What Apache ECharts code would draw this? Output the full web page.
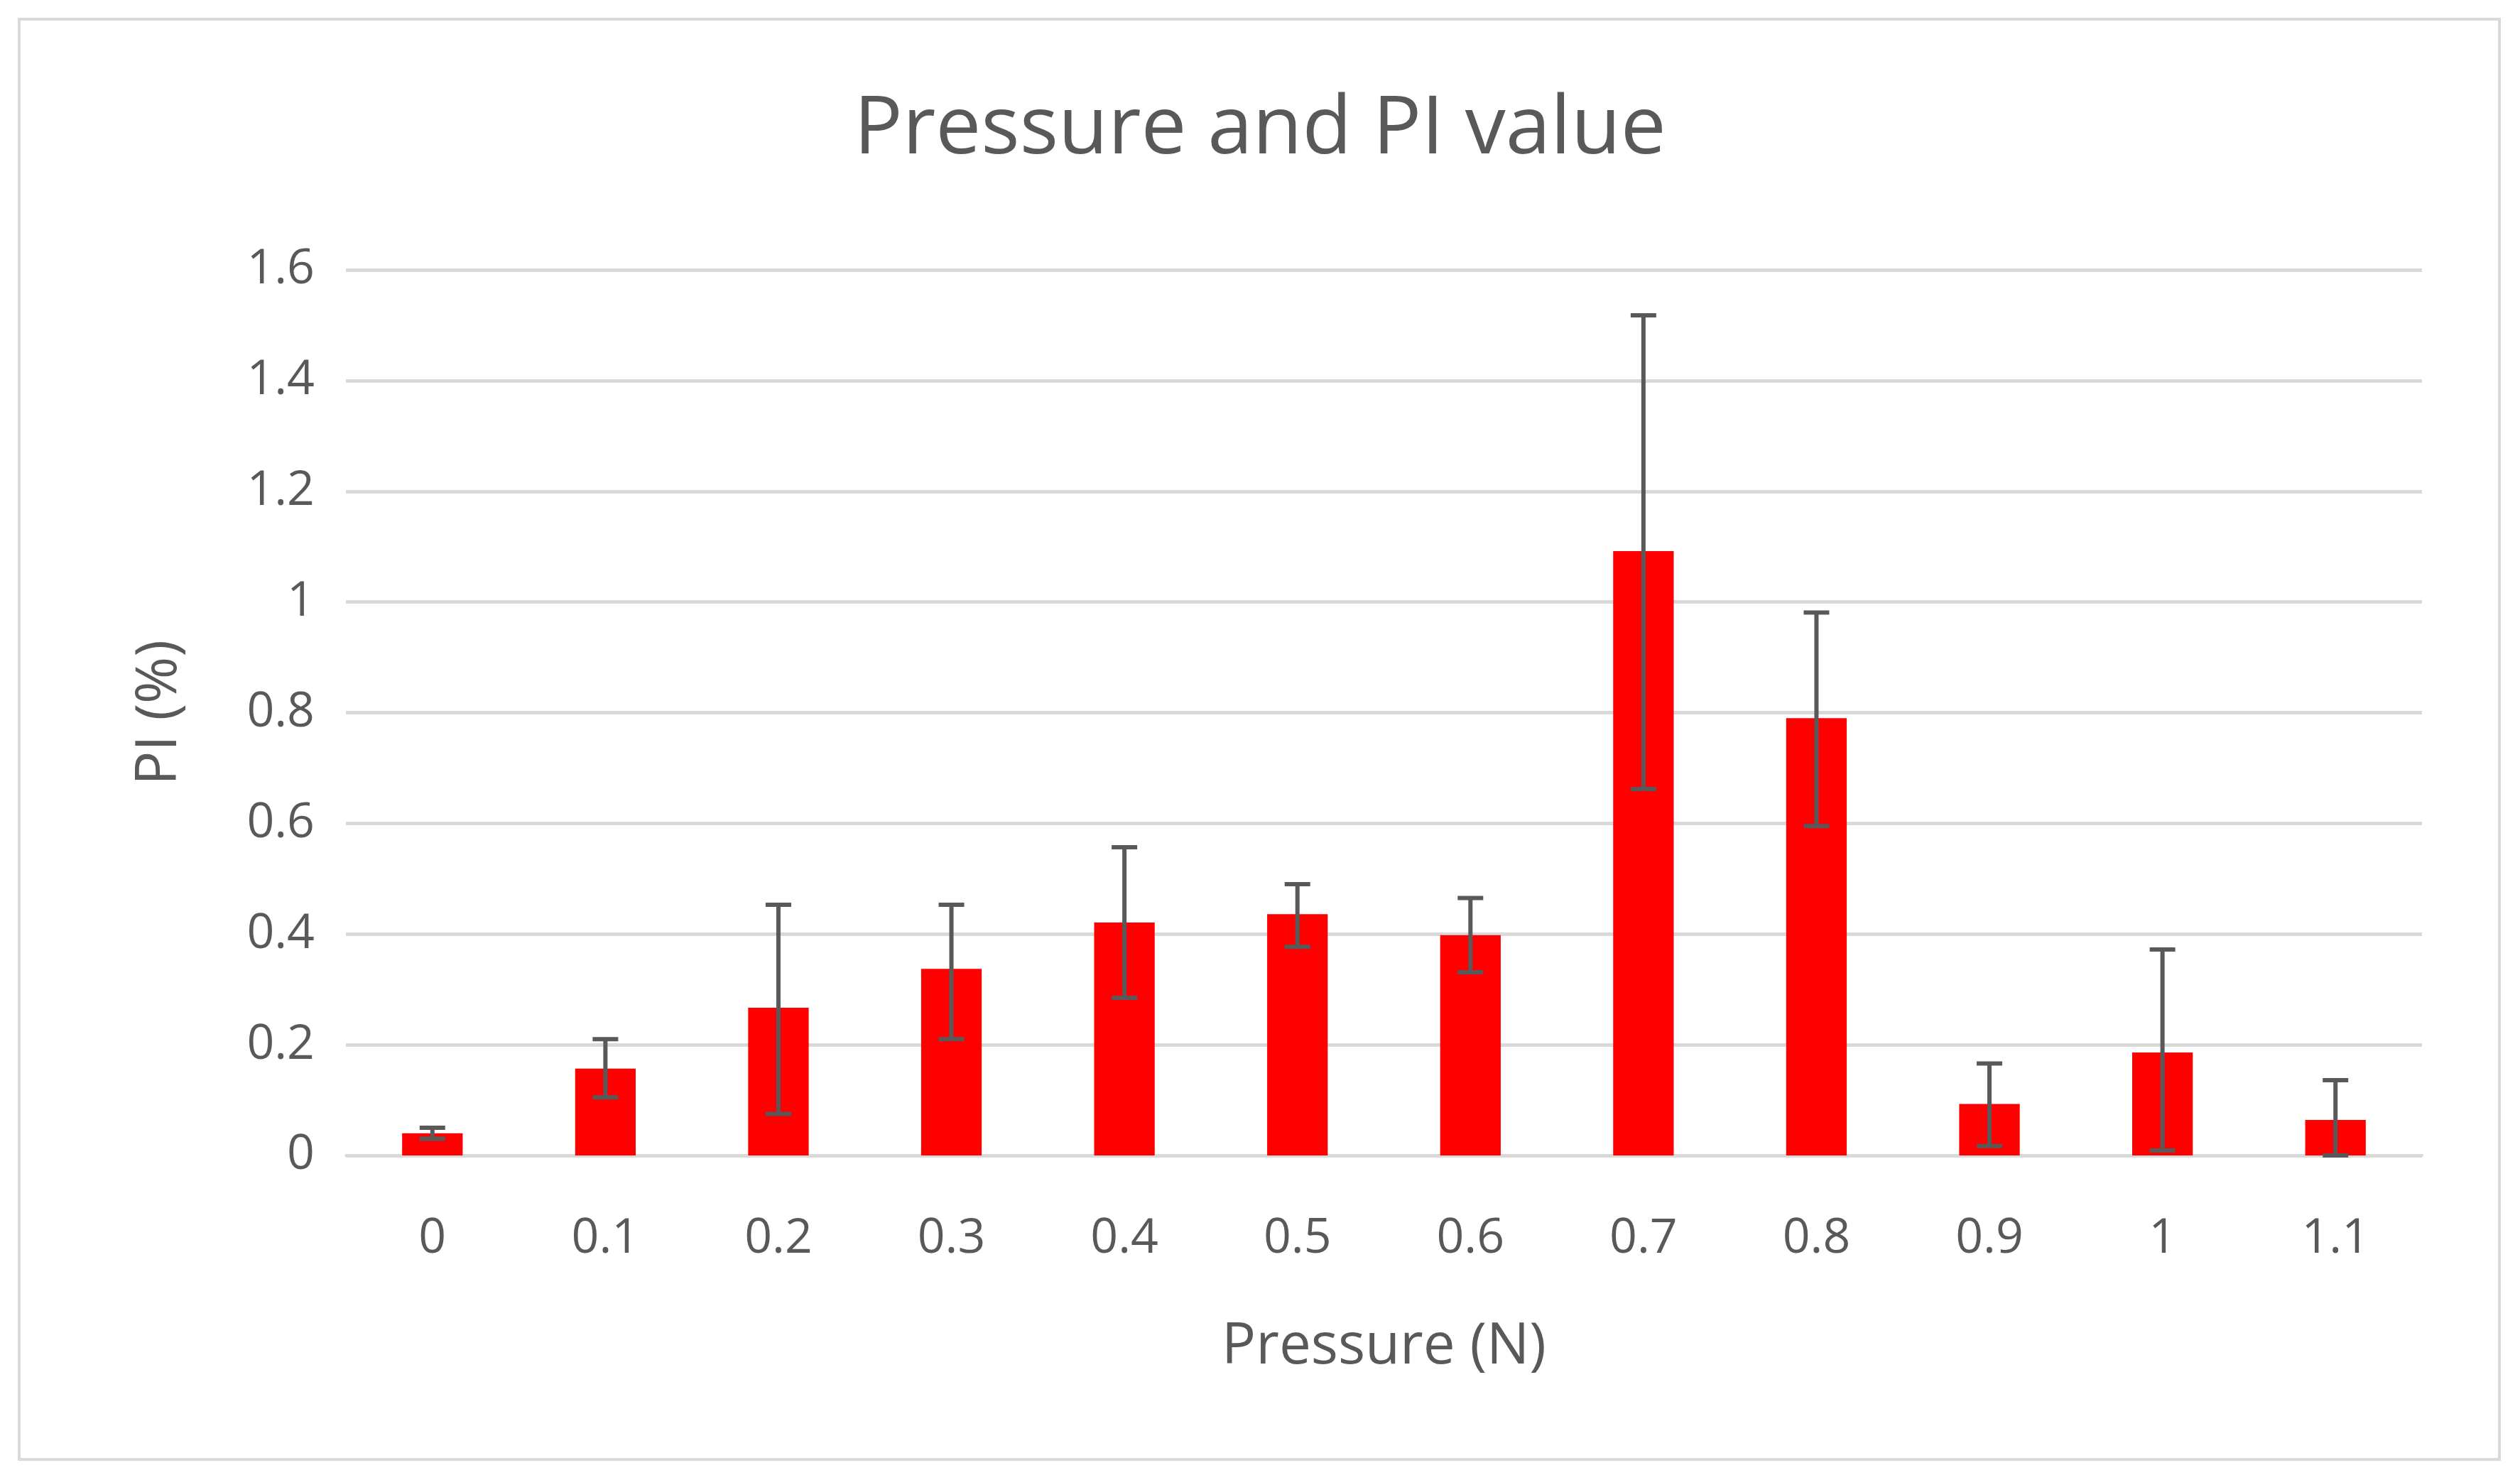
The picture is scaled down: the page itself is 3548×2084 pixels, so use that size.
<!DOCTYPE html>
<html lang="en">
<head>
<meta charset="UTF-8">
<title>Pressure and PI value</title>
<script src="https://cdn.jsdelivr.net/npm/echarts@6/dist/echarts.min.js"></script>
<style>
  html, body { margin: 0; padding: 0; background: #fff; }
  #box { width: 3548px; height: 2084px; }
</style>
</head>
<body>
<div id="box"></div>
<script>
// data
var categories = ['0', '0.1', '0.2', '0.3', '0.4', '0.5', '0.6', '0.7', '0.8', '0.9', '1', '1.1'];
var piValues   = [0.04, 0.157, 0.267, 0.337, 0.421, 0.436, 0.398, 1.092, 0.79, 0.093, 0.186, 0.064];
var errHigh    = [0.05, 0.21, 0.453, 0.453, 0.557, 0.49, 0.465, 1.518, 0.981, 0.166, 0.372, 0.136];
var errLow     = [0.03, 0.105, 0.075, 0.21, 0.285, 0.377, 0.331, 0.662, 0.595, 0.017, 0.009, 0.0];

var textColor = '#595959';
var font = '"Open Sans", "Liberation Sans", sans-serif';

var errData = categories.map(function (c, i) { return [i, errLow[i], errHigh[i]]; });

var myChart = echarts.init(document.getElementById('box'));
var option = {
  backgroundColor: '#fff',
  animation: false,
  textStyle: { fontFamily: font },
  graphic: [{
    type: 'rect',
    shape: { x: 27, y: 27, width: 3492, height: 2028 },
    style: { fill: 'none', stroke: '#d9d9d9', lineWidth: 4 }
  }],
  title: {
    text: 'Pressure and PI value',
    left: 'center',
    top: 122,
    textStyle: { fontSize: 114, fontWeight: 'normal', color: textColor, fontFamily: font }
  },
  grid: { left: 487, right: 138, top: 380, bottom: 457, containLabel: false },
  xAxis: {
    type: 'category',
    data: categories,
    name: 'Pressure (N)',
    nameLocation: 'middle',
    nameGap: 230,
    nameTextStyle: { fontSize: 80, color: textColor },
    axisLine: { lineStyle: { color: '#d9d9d9', width: 4 } },
    axisTick: { show: false },
    axisLabel: { fontSize: 68, color: textColor, margin: 84 }
  },
  yAxis: {
    type: 'value',
    min: 0, max: 1.6, interval: 0.2,
    name: 'PI (%)',
    nameLocation: 'middle',
    nameGap: 222,
    nameTextStyle: { fontSize: 80, color: textColor },
    axisLine: { show: false },
    axisTick: { show: false },
    axisLabel: { fontSize: 68, color: textColor, margin: 44,
      formatter: function (v) { return String(Math.round(v * 10) / 10); } },
    splitLine: { lineStyle: { color: '#d9d9d9', width: 5 } }
  },
  series: [
    {
      type: 'bar',
      data: piValues,
      barWidth: '35%',
      itemStyle: { color: '#ff0000' }
    },
    {
      type: 'custom',
      data: errData,
      z: 10,
      renderItem: function (params, api) {
        var x = api.value(0);
        var lo = api.coord([x, api.value(1)]);
        var hi = api.coord([x, api.value(2)]);
        var hw = 18;
        var st = { stroke: '#595959', lineWidth: 6 };
        return {
          type: 'group',
          children: [
            { type: 'line', shape: { x1: hi[0], y1: hi[1], x2: lo[0], y2: lo[1] }, style: st },
            { type: 'line', shape: { x1: hi[0] - hw, y1: hi[1], x2: hi[0] + hw, y2: hi[1] }, style: st },
            { type: 'line', shape: { x1: lo[0] - hw, y1: lo[1], x2: lo[0] + hw, y2: lo[1] }, style: st }
          ]
        };
      }
    }
  ]
};
myChart.setOption(option);
</script>
</body>
</html>
